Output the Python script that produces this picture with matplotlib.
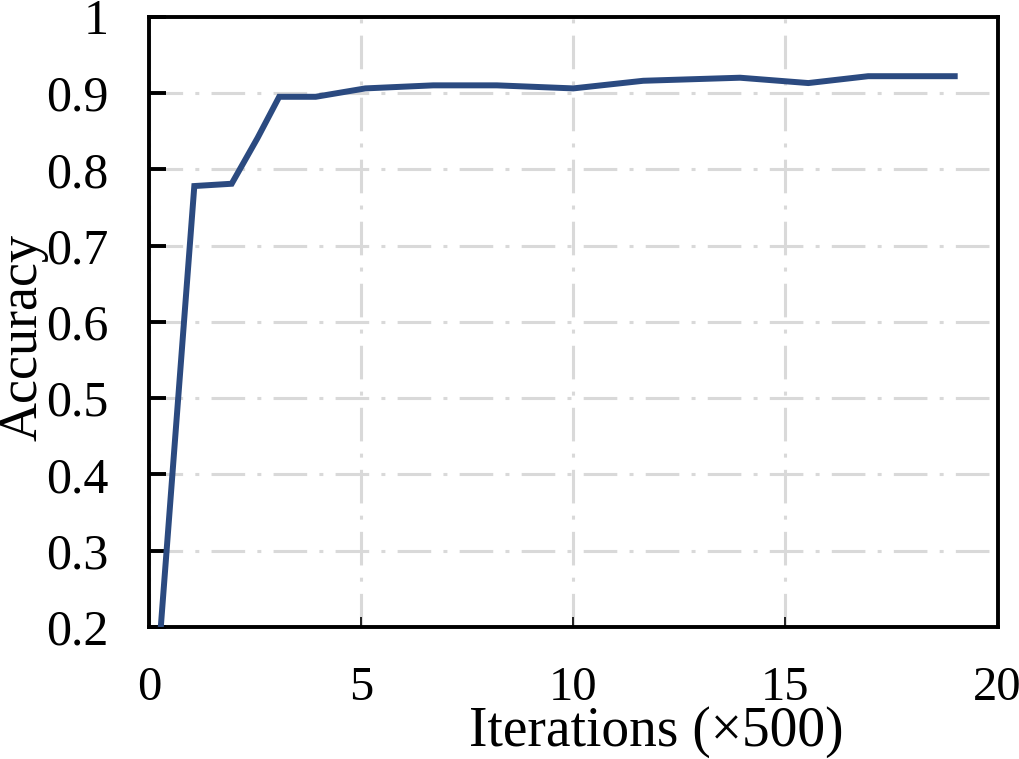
import matplotlib.pyplot as plt

plt.rcParams["font.family"] = ["Liberation Serif", "DejaVu Serif"]

# Accuracy curve
iterations = [0.28, 1.07, 1.95, 2.56, 3.07, 3.93, 5.1, 6.7, 8.2, 10.0, 11.65, 13.93, 15.54, 16.95, 18.99]
accuracy = [0.2, 0.778, 0.781, 0.841, 0.895, 0.895, 0.906, 0.910, 0.910, 0.906, 0.916, 0.920, 0.913, 0.922, 0.922]

x_ticks = [0, 5, 10, 15, 20]
y_ticks = [0.2, 0.3, 0.4, 0.5, 0.6, 0.7, 0.8, 0.9, 1.0]
y_labels = ["0.2", "0.3", "0.4", "0.5", "0.6", "0.7", "0.8", "0.9", "1"]

fig = plt.figure(figsize=(10.2, 7.59), dpi=100)
ax = fig.add_axes([0.146, 0.174, 0.832, 0.804])

ax.plot(iterations, accuracy, color="#2b4a80", lw=4.3, solid_joinstyle="miter", zorder=3)

ax.set_xlim(0, 20)
ax.set_ylim(0.2, 1.0)
ax.set_xticks(x_ticks)
ax.set_yticks(y_ticks)
ax.set_yticklabels(y_labels)

ax.grid(True, color="#d9d9d9", lw=2.2, linestyle=(0, (11, 4, 1.3, 4)), zorder=0)

for s in ax.spines.values():
    s.set_linewidth(2.8)

ax.tick_params(axis="y", direction="in", length=12, width=2.8, labelsize=36, pad=29)
ax.tick_params(axis="x", direction="in", length=7, width=1.2, labelsize=35, pad=28)

ax.set_xlabel("Iterations (×500)", fontsize=40)
ax.xaxis.set_label_coords(0.598, -0.172)
ax.xaxis.label.set_va("center")
ax.set_ylabel("Accuracy", fontsize=39)
ax.yaxis.set_label_coords(-0.148, 0.474)
ax.yaxis.label.set_va("center")

fig.savefig("out.png", dpi=100)
